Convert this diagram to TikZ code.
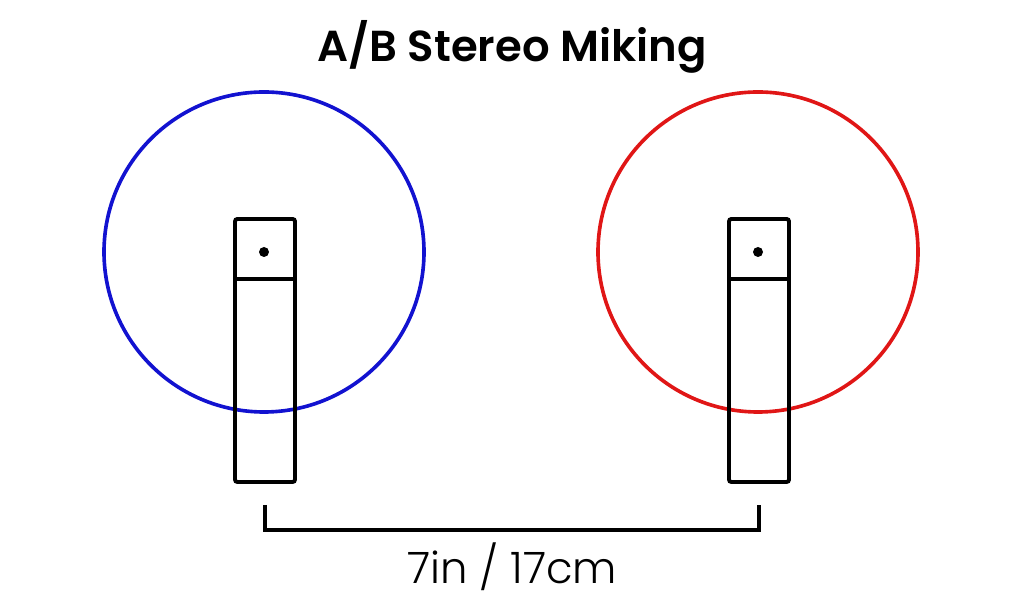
\documentclass[tikz,border=0pt]{standalone}
\usepackage{fontspec}
\setmainfont{Poppins}[BoldFont={Poppins SemiBold}]
\newfontfamily\lightfont{Poppins Light}
\usetikzlibrary{positioning}
\definecolor{leftblue}{RGB}{18,18,208}
\definecolor{rightred}{RGB}{224,22,22}
\tikzset{
  micbody/.style={draw, line width=3.3pt, rounded corners=2pt, minimum width=1.8cm, minimum height=7.89cm, inner sep=0pt},
  pattern/.style={line width=3.1pt},
}

\begin{document}
\begin{tikzpicture}[x=0.03cm,y=0.03cm,line width=3.3pt]
	\useasboundingbox (0,0) rectangle (1024,596);

	% title
	\node[inner sep=0pt] (title) at (512,549) {\fontsize{37}{40}\selectfont\bfseries A/B Stereo Miking};

	% the two pickup patterns
	\coordinate (capL) at (264,344);
	\coordinate (capR) at (758,344);
	\draw[pattern, leftblue] (capL) circle (160);
	\draw[pattern, rightred] (capR) circle (160);

	% the two microphones
	\node[micbody] (bodyL) at (265,245.5) {};
	\node[micbody] (bodyR) at (759,245.5) {};
	\draw ([yshift=-1.86cm]bodyL.north west) -- ([yshift=-1.86cm]bodyL.north east);
	\draw ([yshift=-1.86cm]bodyR.north west) -- ([yshift=-1.86cm]bodyR.north east);
	\fill (capL) circle (5);
	\fill (capR) circle (5);

	% spacing bracket
	\coordinate (brL) at ([yshift=-0.63cm]bodyL.south);
	\coordinate (brR) at ([yshift=-0.63cm]bodyR.south);
	\draw (brL) -- ([yshift=-0.75cm]brL) -- ([yshift=-0.75cm]brR) -- (brR);
	\node[inner sep=0pt, text depth=0pt, anchor=base] (gap) at (512,12) {\fontsize{37}{40}\selectfont\lightfont 7in / 17cm};

\end{tikzpicture}
\end{document}
